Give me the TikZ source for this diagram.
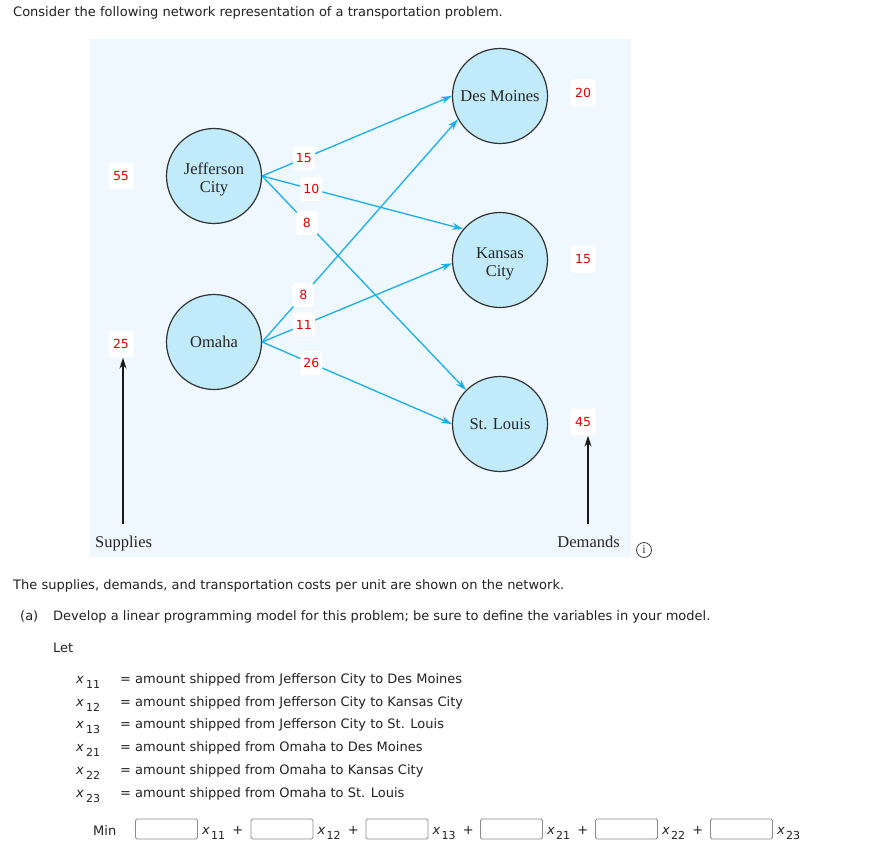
\documentclass[tikz,border=0pt]{standalone}
\usepackage{fontspec}
\setmainfont{Liberation Serif}
\newfontfamily\vfont{DejaVu Sans}
\usetikzlibrary{arrows.meta}
\definecolor{bgblue}{HTML}{EEF8FE}
\definecolor{nodeblue}{HTML}{C1EAFA}
\definecolor{arrowblue}{HTML}{1AAEEB}
\definecolor{txt}{HTML}{222222}
\definecolor{costred}{HTML}{E00000}
\newcommand{\twoline}[2]{\raisebox{-3.5pt}[\height][\depth]{\shortstack{#1\\[4pt]#2}}}
\tikzset{
  city/.style={circle, draw=black!80, line width=1.2pt, fill=nodeblue, minimum size=95pt, inner sep=0pt, align=center, font=\fontsize{16.5}{19}\selectfont, text=black!85},
  numlab/.style={fill=white, rounded corners=3pt, text=costred, font=\vfont\fontsize{12.5}{12}\selectfont, inner sep=0pt, minimum width=25pt, minimum height=27pt},
  costlab/.style={fill=white, rounded corners=3pt, text=costred, font=\vfont\fontsize{12.5}{12}\selectfont, inner sep=0pt, minimum width=22pt, minimum height=24pt},
  flow/.style={draw=arrowblue, line width=1.3pt, -{Stealth[length=11pt,width=7pt]}},
  supp/.style={draw=black!90, line width=1.2pt, -{Stealth[length=11pt,width=7pt]}},
  vtext/.style={anchor=base west, inner sep=0pt, text=txt, font=\vfont\fontsize{13}{15}\selectfont},
  sublab/.style={anchor=base west, inner sep=0pt, text=txt, font=\vfont\fontsize{11}{12}\selectfont},
  ansbox/.style={draw=black!45, rounded corners=1.5pt, line width=0.8pt, fill=white, minimum width=62pt, minimum height=20pt, inner sep=0pt},
  diagtext/.style={inner sep=0pt, text=black!85, font=\fontsize{16.5}{19}\selectfont}
}
\begin{document}
\begin{tikzpicture}[x=1pt,y=-1pt]
\useasboundingbox (0,0) rectangle (883,845);
\fill[white] (0,0) rectangle (883,845);
% background panel
\fill[bgblue] (90,39) rectangle (631,557);

\node[vtext] (title) at (13,17) {Consider the following network representation of a transportation problem.};

% cities
\node[city] (jc) at (214,176) {\twoline{Jefferson}{City}};
\node[city] (om) at (214,342) {Omaha};
\node[city] (dm) at (500,96) {Des Moines};
\node[city] (kc) at (500,260) {\twoline{Kansas}{City}};
\node[city] (sl) at (500,424) {St. Louis};

% flows
\draw[flow] (jc.east) -- (dm.west) node[costlab, pos=0.22] (c11) {15};
\draw[flow] (jc.east) -- (kc.140) node[costlab, pos=0.245] (c12) {10};
\draw[flow] (jc.east) -- (sl.135) node[costlab, pos=0.22] (c13) {8};
\draw[flow] (om.east) -- (dm.209) node[costlab, pos=0.21] (c21) {8};
\draw[flow] (om.east) -- (kc.184) node[costlab, pos=0.22] (c22) {11};
\draw[flow] (om.east) -- (sl.west) node[costlab, pos=0.26] (c23) {26};

% supplies and demands
\node[numlab] (s1) at (121,176) {55};
\node[numlab] (s2) at (121,344) {25};
\node[numlab] (d1) at (583,93) {20};
\node[numlab] (d2) at (583,259) {15};
\node[numlab] (d3) at (583,422) {45};

\coordinate (supbase) at (123,524);
\coordinate (dembase) at (588,524);
\draw[supp] (supbase) -- (s2.south -| supbase);
\draw[supp] (dembase) -- (d3.south -| dembase);

\node[diagtext, anchor=base west] (supplies) at (95,547) {Supplies};
\node[diagtext, anchor=base east] (demands) at (620,547) {Demands};
\node[circle, draw=black!75, line width=0.8pt, minimum size=15pt, inner sep=0pt, font=\fontsize{12}{12}\selectfont, text=black!80] (info) at (644,550) {i};

% text below
\node[vtext] (t1) at (13,589) {The supplies, demands, and transportation costs per unit are shown on the network.};
\node[vtext] (t2a) at (20,620) {(a)};
\node[vtext] (t2) at (53,620) {Develop a linear programming model for this problem; be sure to define the variables in your model.};
\node[vtext] (let) at (53,652) {Let};

\foreach \s/\yy/\desc in {11/683/Jefferson City to Des Moines, 12/706/Jefferson City to Kansas City, 13/728/Jefferson City to St. Louis, 21/751/Omaha to Des Moines, 22/774/Omaha to Kansas City, 23/797/Omaha to St. Louis}{
  \node[vtext] (v\s) at (76,\yy) {\itshape x};
  \node[sublab] (vs\s) at (86,\yy+5) {\s};
  \node[vtext] (vd\s) at (120,\yy) {= amount shipped from \desc};
}

% objective row
\node[vtext] (min) at (93,835) {Min};
\foreach \bx/\s [count=\i] in {166.5/11, 282/12, 397/13, 511.5/21, 626.5/22, 741.5/23}{
  \node[ansbox] (b\i) at (\bx,829) {};
  \node[vtext] (x\i) at ([xshift=4pt]b\i.east |- 0,834) {\itshape x};
  \node[sublab] (xs\i) at ([xshift=13pt]b\i.east |- 0,839) {\s};
}
\foreach \i in {1,...,5}{
  \node[vtext, anchor=base] (p\i) at ([xshift=40pt]b\i.east |- 0,834) {+};
}
\end{tikzpicture}
\end{document}
